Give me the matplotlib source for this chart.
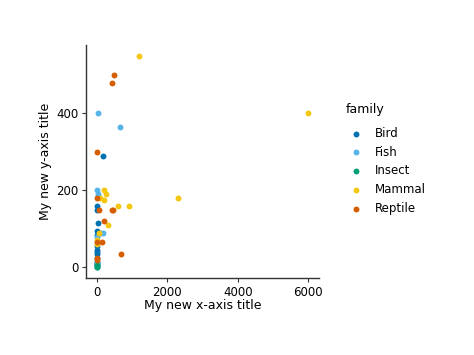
import matplotlib
matplotlib.use("Agg")
import matplotlib.pyplot as plt

# --- datos por familia (x, y) ---
families = ["Bird", "Fish", "Insect", "Mammal", "Reptile"]
colors = {"Bird": "#0072B2", "Fish": "#56B4E9", "Insect": "#009E73",
          "Mammal": "#F5C710", "Reptile": "#D55E00"}

bird_x = [0, 0, 30, 0, 0, 0, 0, 0, 0, 0, 0, 170, 10, 5, 100]
bird_y = [160, 150, 115, 95, 55, 45, 35, 25, 15, 10, 5, 290, 40, 85, 90]
fish_x = [40, 650, 20, 50, 170, 0, 5, 10, 30]
fish_y = [400, 365, 200, 191, 90, 80, 15, 8, 185]
insect_x = [0, 0, 5]
insect_y = [0, 2, 5]
mammal_x = [1200, 6000, 200, 260, 110, 200, 2300, 610, 910, 320, 70, 0, 15]
mammal_y = [550, 400, 200, 190, 180, 174, 180, 160, 160, 109, 90, 72, 60]
reptile_x = [500, 450, 0, 0, 80, 430, 470, 200, 150, 0, 700, 0, 0]
reptile_y = [500, 480, 300, 180, 150, 150, 150, 120, 67, 65, 35, 25, 20]

data = {
    "Bird": (bird_x, bird_y),
    "Fish": (fish_x, fish_y),
    "Insect": (insect_x, insect_y),
    "Mammal": (mammal_x, mammal_y),
    "Reptile": (reptile_x, reptile_y),
}

fig = plt.figure(figsize=(4.74, 3.55), dpi=100)
ax = fig.add_axes([86 / 474, 1 - 278 / 355, (319 - 86) / 474, (278 - 45) / 355])

for fam in families:
    x, y = data[fam]
    ax.scatter(x, y, s=18, c=colors[fam], label=fam, linewidths=0)

ax.set_xlim(-300, 6300)
ax.set_ylim(-27.5, 577.5)
ax.set_xticks([0, 2000, 4000, 6000])
ax.set_yticks([0, 200, 400])
for side in ["top", "right"]:
    ax.spines[side].set_visible(False)
for side in ["left", "bottom"]:
    ax.spines[side].set_color("#333333")
    ax.spines[side].set_linewidth(1.0)
ax.tick_params(labelsize=8.5, colors="#333333", length=3, pad=2.5, labelcolor="black")
ax.set_xlabel("My new x-axis title", fontsize=9, labelpad=0)
ax.set_ylabel("My new y-axis title", fontsize=9, labelpad=3)

# título de la leyenda aparte
fig.text(346 / 474, 1 - 110 / 355, "family", fontsize=9, ha="left", va="center")
leg = ax.legend(loc="upper left", bbox_to_anchor=(334 / 474, 1 - 116 / 355),
                bbox_transform=fig.transFigure, frameon=False, fontsize=8.5,
                handletextpad=0.6, labelspacing=0.5, markerscale=1.0)

fig.savefig("out.png", dpi=100)
